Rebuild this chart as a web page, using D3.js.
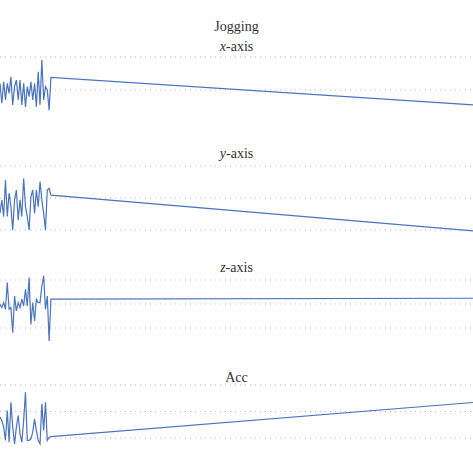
<!DOCTYPE html>
<html>
<head>
<meta charset="utf-8">
<script src="https://cdn.jsdelivr.net/npm/d3@7"></script>
<style>
  body { margin: 0; background: #fff; }
  text { font-family: "Liberation Serif", "DejaVu Serif", serif; fill: #333; }
</style>
</head>
<body>
<svg id="chart" width="473" height="473"></svg>
<script>
"use strict"

const title = "Jogging"
const panelNames = ["x-axis", "y-axis", "z-axis", "Acc"]
const lastIndex = 260

// noisy samples, then the point where the straight segment starts, then the end value
const xAxisVals = [2.0, -4.0, 2.5, -3.0, 2.0, -1.0, 4.0, -4.5, 1.0, 3.0, -3.0, 3.0, -4.5, 2.0,
  -5.1, 1.0, -2.0, 2.5, -3.0, 2.0, -5.1, 5.5, -4.5, 9.1, -3.0, 1.0, 0, -6.1, 3.8]
const xAxisEnd = -4.5
const yAxisVals = [-4.8, -0.6, -5.8, 5.6, -5.8, 1.5, -2.7, -10, -0.6, 2.5, -6.9, -0.6, -5.8, 6.1,
  -2.7, -5.8, -10, 0.4, 2.5, -4.8, 2.5, -2.7, 5.1, -0.6, -4.8, -10, 2.5, 3.0, 0.9]
const yAxisEnd = -10.3
const zAxisVals = [-0.1, -1.5, 0.6, -2.2, 8.9, -2.2, -1.5, -12, 3.3, -2.9, 0.6, -1.5, 2.0, -0.8,
  6.1, -0.8, 11.0, -8.5, 0.6, -7.1, 2.0, 0.6, 0.6, 7.5, 11.7, -2.2, 3.3, -15.4, 2.0]
const zAxisEnd = 2.4
const accVals = [-2.1, -3.4, -5.9, -10.9, 0.4, -11.6, 3.5, -5.9, -12.2, -5.9, -1.5, -8.4, -11.6, -3.4,
  7.3, -10.9, -10.9, -10.3, -7.8, -2.8, -7.2, -10.9, -12.2, 2.9, -7.2, 3.5, -10.9, -9.7, -9.5]
const accEnd = 3.4

const gridValues = [[10, 0], [10, 0, -10], [10, 0, -10], [10, 0, -10]]

// layout per panel: label baseline, pixel of value 10, pixels per 10 units
const panels = [
  { vals: xAxisVals, end: xAxisEnd, label: 51, top: 57, step: 33 },
  { vals: yAxisVals, end: yAxisEnd, label: 158, top: 166, step: 32 },
  { vals: zAxisVals, end: zAxisEnd, label: 272, top: 280, step: 24 },
  { vals: accVals, end: accEnd, label: 382, top: 385, step: 26.5 }
]

const W = 473
const svg = d3.select("#chart")
const x = d3.scaleLinear().domain([0, lastIndex]).range([0, W])

svg.append("text").attr("x", W / 2).attr("y", 31)
  .attr("text-anchor", "middle").attr("font-size", 14).text(title)

panels.forEach((p, i) => {
  const y = d3.scaleLinear().domain([10, 0]).range([p.top, p.top + p.step])
  const g = svg.append("g")

  g.selectAll("line.grid").data(gridValues[i]).enter().append("line")
    .attr("x1", 0).attr("x2", W)
    .attr("y1", d => y(d)).attr("y2", d => y(d))
    .attr("stroke", "#bbb").attr("stroke-dasharray", "1,4")

  const name = panelNames[i]
  const t = g.append("text").attr("x", W / 2).attr("y", p.label)
    .attr("text-anchor", "middle").attr("font-size", 14)
  if (name.includes("-")) {
    t.append("tspan").attr("font-style", "italic").text(name.split("-")[0])
    t.append("tspan").text("-" + name.split("-")[1])
  } else {
    t.text(name)
  }

  const pts = p.vals.map((v, k) => [k, v]).concat([[lastIndex, p.end]])
  g.append("path").datum(pts)
    .attr("fill", "none").attr("stroke", "#4a74bd").attr("stroke-width", 1.2)
    .attr("d", d3.line().x(d => x(d[0])).y(d => y(d[1])))
})
</script>
</body>
</html>
